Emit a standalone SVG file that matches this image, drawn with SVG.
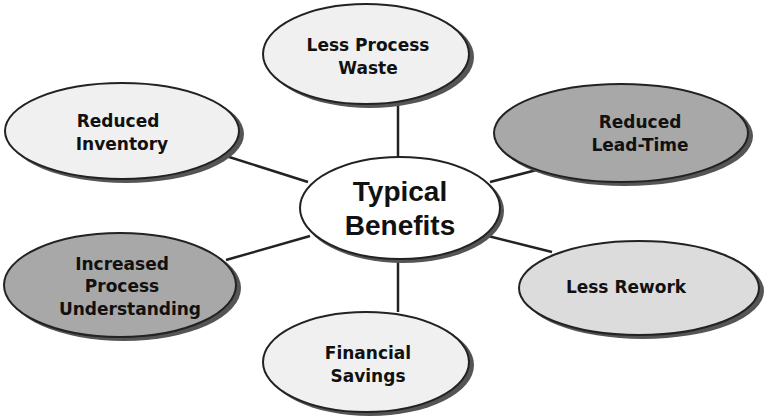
<svg xmlns="http://www.w3.org/2000/svg" width="768" height="418" viewBox="0 0 768 418">
<style>
.sh{fill:#555}
.e{stroke:#222;stroke-width:2}
.l{fill:#f0f0f0}.d{fill:#a8a8a8}.m{fill:#dcdcdc}
text{font-family:"DejaVu Sans",Verdana,sans-serif;font-weight:bold;font-size:17px;fill:#111;text-anchor:middle}
.c{font-family:"Liberation Sans",Arial,sans-serif;font-size:28px}
line{stroke:#222;stroke-width:2.5}
</style>
<rect width="768" height="418" fill="#fff"/>
<g id="connectors">
<line x1="398" y1="104" x2="398" y2="158"/>
<line x1="226" y1="156" x2="308" y2="182"/>
<line x1="490" y1="182" x2="552" y2="166"/>
<line x1="226" y1="260" x2="310" y2="236"/>
<line x1="488" y1="236" x2="552" y2="252"/>
<line x1="398" y1="258" x2="398" y2="312"/>
</g>
<g id="n1"><ellipse class="sh" cx="370" cy="57" rx="104" ry="51"/><ellipse class="e l" cx="366" cy="54" rx="103" ry="50"/><text x="368" y="51">Less Process</text><text x="368" y="74">Waste</text></g>
<g id="n2"><ellipse class="sh" cx="126" cy="134" rx="118" ry="49"/><ellipse class="e l" cx="122" cy="131" rx="117" ry="48"/><text x="118" y="127">Reduced</text><text x="122" y="150">Inventory</text></g>
<g id="n3"><ellipse class="sh" cx="625" cy="136" rx="128" ry="50"/><ellipse class="e d" cx="621" cy="133" rx="127" ry="49"/><text x="640" y="128">Reduced</text><text x="640" y="151">Lead-Time</text></g>
<g id="n4"><ellipse class="sh" cx="124" cy="288" rx="117" ry="53"/><ellipse class="e d" cx="120" cy="285" rx="116" ry="52"/><text x="122" y="270">Increased</text><text x="122" y="292">Process</text><text x="130" y="315">Understanding</text></g>
<g id="n5"><ellipse class="sh" cx="643" cy="291" rx="121" ry="48"/><ellipse class="e m" cx="639" cy="288" rx="120" ry="47"/><text x="626" y="293">Less Rework</text></g>
<g id="n6"><ellipse class="sh" cx="370" cy="365" rx="104" ry="51"/><ellipse class="e l" cx="366" cy="362" rx="103" ry="50"/><text x="368" y="359">Financial</text><text x="368" y="382">Savings</text></g>
<g id="center"><ellipse class="sh" cx="403" cy="211" rx="101" ry="52"/><ellipse class="e" fill="#fff" cx="400" cy="208" rx="100" ry="51"/><text class="c" x="400" y="201">Typical</text><text class="c" x="400" y="235">Benefits</text></g>
</svg>
